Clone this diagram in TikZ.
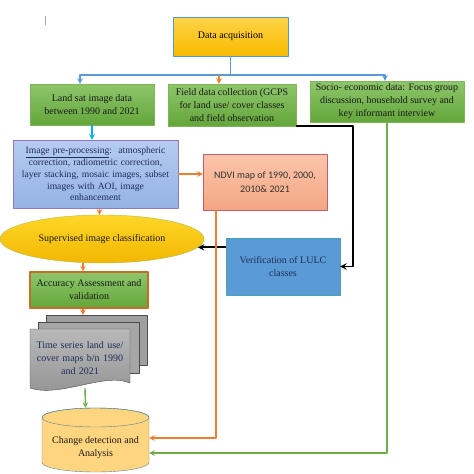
\documentclass[tikz,border=0pt]{standalone}
\usepackage{fontspec}
\setmainfont{Liberation Serif}
\newfontfamily\calibri{Carlito}
\usetikzlibrary{shapes.geometric}
\definecolor{acqT}{HTML}{FFD447}
\definecolor{acqB}{HTML}{F7BA00}
\definecolor{grnT}{HTML}{8DC66B}
\definecolor{grnB}{HTML}{64A63A}
\definecolor{grnD}{HTML}{7DB659}
\definecolor{navy}{HTML}{1F2D5A}
\definecolor{cylfill}{HTML}{FFD580}
\definecolor{cyldraw}{HTML}{5A8796}
\definecolor{lineblue}{HTML}{5B9BD5}
\definecolor{linecyan}{HTML}{00B0F0}
\definecolor{lineorange}{HTML}{ED7D31}
\definecolor{linegreen}{HTML}{70AD47}
\begin{document}
\begin{tikzpicture}[x=1pt,y=-1pt,>=stealth, font=\fontsize{10}{13}\selectfont, line join=round,
	box/.style={rectangle, align=center, inner sep=2pt},
	greenbox/.style={box, top color=grnT, bottom color=grnB, draw=grnD, text=black!90},
	link/.style={line width=1.4pt, ->}]
	\useasboundingbox (0,0) rectangle (474,474);
	\node[text=black!70] (cursor) at (46,21) {|};
	% boxes
	\node[box, top color=acqT, bottom color=acqB, draw=cyan!60!blue!70, minimum width=115, minimum height=39] (acq) at (230.5,36.5) {Data acquisition};
	\node[greenbox, minimum width=124, minimum height=41] (landsat) at (92,104.5) {Land sat image data\\between 1990 and 2021};
	\node[greenbox, minimum width=128, minimum height=42] (field) at (232,105) {Field data collection (GCPS\\for land use/ cover classes\\and field observation};
	\node[greenbox, minimum width=154, minimum height=41] (socio) at (387,101.5) {Socio- economic data: Focus group\\discussion, household survey and\\key informant interview};
	\node[box, top color={rgb,255:red,182;green,203;blue,240}, bottom color={rgb,255:red,148;green,178;blue,228}, draw={rgb,255:red,142;green,124;blue,195}, text=navy, minimum width=165, minimum height=68, text width=160, font=\fontsize{9.6}{11.8}\selectfont] (prep) at (95.5,174) {\underline{Image pre-processing}:\ \ atmospheric\\correction, radiometric correction,\\layer stacking, mosaic images, subset\\images with AOI, image\\enhancement};
	\node[box, top color={rgb,255:red,251;green,197;blue,172}, bottom color={rgb,255:red,244;green,166;blue,130}, draw={rgb,255:red,190;green,95;blue,110}, text=black!80, minimum width=124, minimum height=56, font=\calibri\fontsize{10}{14}\selectfont] (ndvi) at (265,182) {NDVI map of 1990, 2000,\\2010\& 2021};
	\node[ellipse, inner sep=0pt, align=center, top color={rgb,255:red,255;green,214;blue,40}, bottom color={rgb,255:red,242;green,183;blue,0}, draw={rgb,255:red,170;green,190;blue,80}, minimum width=204, minimum height=48, text=black!90] (sup) at (102,239) {Supervised image classification};
	\node[box, fill=lineblue, draw={rgb,255:red,75;green,160;blue,190}, text=navy, minimum width=114, minimum height=57] (verif) at (283,266.5) {Verification of LULC\\classes};
	\node[greenbox, draw={rgb,255:red,197;green,110;blue,40}, line width=1.2pt, minimum width=118, minimum height=36] (acc) at (89,290) {Accuracy Assessment and\\validation};
	% stacked map pages
	\draw[fill=gray!75, draw=black!70] (46,315) rectangle (147,365);
	\draw[fill=gray!70, draw=black!70] (38,322) rectangle (139,373);
	\draw[top color=gray!55, bottom color=gray!85, draw=black!70] (30,329) -- (130,329) -- (130,383) .. controls (105,372) and (60,398) .. (30,388) -- cycle;
	\node[box, text=navy, text width=96, minimum height=60] (ts) at (80,358) {Time series land use/\\cover maps b/n 1990\\and 2021};
	% change detection drum
	\node[inner sep=0pt, minimum width=107, minimum height=64] (change) at (95.5,440) {};
	\draw[fill=cylfill, draw=cyldraw] (42,417.5) -- (42,462.5) arc[start angle=180, end angle=360, x radius=53.5pt, y radius=9.5pt] -- (149,417.5) arc[start angle=0, end angle=180, x radius=53.5pt, y radius=9.5pt] -- cycle;
	\draw[draw=cyldraw] (95.5,417.5) ellipse[x radius=53.5pt, y radius=9.5pt];
	\node[align=center, text=black!90] (changetext) at (95.5,447.5) {Change detection and\\Analysis};
	% connectors
	\coordinate (bus) at (0,75);
	\draw[line width=1.4pt, lineblue] (acq.south) -- (acq.south |- bus);
	\draw[link, lineblue] (acq.south |- bus) -| ([xshift=-12pt]landsat.north);
	\draw[link, lineblue] (acq.south |- bus) -| ([xshift=-2pt]socio.north);
	\draw[link, lineorange] ([xshift=-13pt]field.north |- bus) -- ([xshift=-13pt]field.north);
	\draw[link, linecyan] (landsat.south) -- (landsat.south |- prep.north);
	\draw[link, lineorange] (prep.east) -- (prep.east -| ndvi.west);
	\draw[link, lineorange] ([xshift=4pt]prep.south) -- ([xshift=4pt]prep.south |- sup.north);
	\draw[link, black, line width=1.8pt] (field.south east) -- ++(57,0) |- (verif.east);
	\draw[link, black, line width=1.8pt] (verif.west |- sup.-5.4) -- (sup.-5.4);
	\draw[link, lineorange] ([xshift=-6pt]acc.north |- sup.south) -- ([xshift=-6pt]acc.north);
	\draw[link, lineorange] ([xshift=-6pt]acc.south) -- (83,315);
	\draw[link, linegreen] ([xshift=5pt]ts.south) -- ([xshift=-10pt]change.north);
	\draw[link, lineorange] ([xshift=-49pt]ndvi.south) |- ([yshift=2pt]change.east);
	\draw[link, linegreen] (socio.south) |- ([yshift=-13pt]change.east);
\end{tikzpicture}
\end{document}
